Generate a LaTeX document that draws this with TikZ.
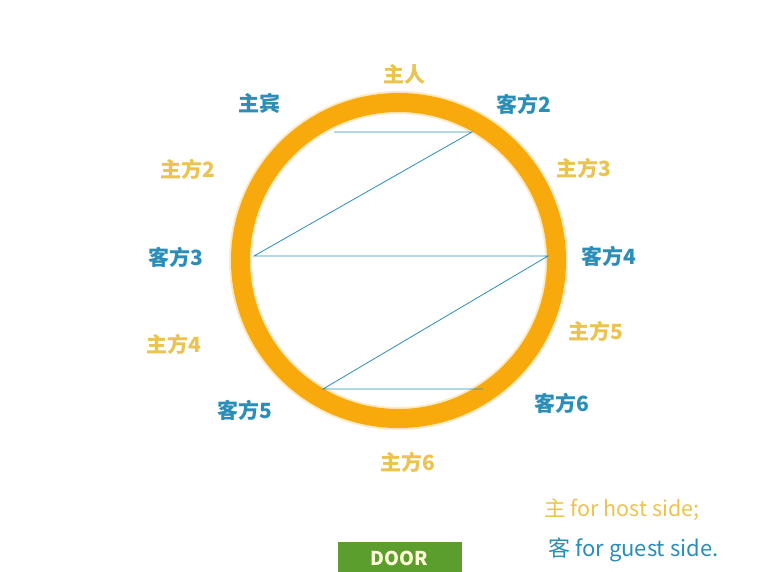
\documentclass[tikz,border=0pt]{standalone}
\usepackage{fontspec}
\newfontfamily\cjk{Noto Sans CJK SC}
\definecolor{ringorange}{RGB}{248,170,12}
\definecolor{hostyellow}{RGB}{236,195,80}
\definecolor{guestblue}{RGB}{42,142,184}
\definecolor{doorgreen}{RGB}{92,158,46}
\tikzset{
  host/.style={text=hostyellow, font=\cjk\bfseries\fontsize{21}{23}\selectfont},
  guest/.style={text=guestblue, font=\cjk\bfseries\fontsize{21}{23}\selectfont},
  seatline/.style={draw=guestblue, line width=0.8pt},
}
\begin{document}
\begin{tikzpicture}[scale=1.000000,x=1pt,y=-1pt]
\useasboundingbox (0,0) rectangle (773,572);
\fill[white] (0,0) rectangle (773,572);
% Drawing table
\coordinate (table) at (398.5,260.5);
\draw[color=ringorange!25, line width=23pt] (table) circle (158pt);
\draw[color=ringorange, line width=19pt] (table) circle (158pt);
% Seat points on the table
\coordinate (s1) at (334,132);
\coordinate (s2) at (472,132);
\coordinate (s3) at (254,256);
\coordinate (s4) at (548,256);
\coordinate (s5) at (323,389);
\coordinate (s6) at (483,389);
% Drawing seat lines
\draw[seatline] (s1) -- (s2) -- (s3) -- (s4) -- (s5) -- (s6);
% Drawing seat labels
\node[host] (zhuren) at (404,74) {主人};
\node[guest] (zhubin) at (259,104) {主宾};
\node[guest] (kefang2) at (524,104) {客方2};
\node[host] (zhufang2) at (188,169) {主方2};
\node[host] (zhufang3) at (584,168) {主方3};
\node[guest] (kefang3) at (176,257) {客方3};
\node[guest] (kefang4) at (609,256) {客方4};
\node[host] (zhufang4) at (174,344) {主方4};
\node[host] (zhufang5) at (596,331) {主方5};
\node[guest] (kefang5) at (245,410) {客方5};
\node[guest] (kefang6) at (562,403) {客方6};
\node[host] (zhufang6) at (408,462) {主方6};
% Drawing legend
\node[anchor=west, text=hostyellow, font=\cjk\fontsize{21.5}{24}\selectfont] (hostkey) at (541,510) {主 for host side;};
\node[anchor=west, text=guestblue, font=\cjk\fontsize{22}{24}\selectfont] (guestkey) at (545,550) {客 for guest side.};
% Drawing door
\fill[doorgreen] (338,542) rectangle (462,572);
\node[text=yellow!15, font=\cjk\bfseries\fontsize{19}{21}\selectfont] (door) at (399,558) {DOOR};
\end{tikzpicture}
\end{document}
